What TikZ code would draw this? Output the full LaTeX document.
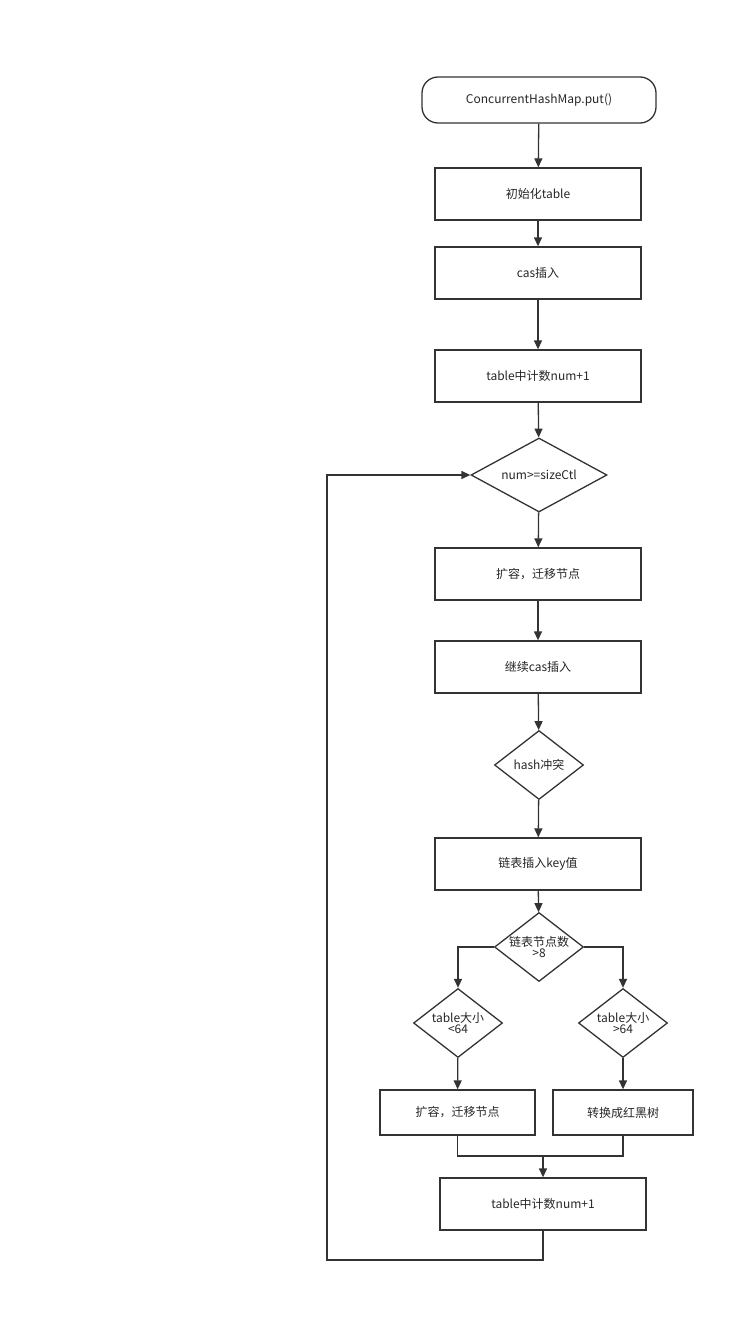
\documentclass[tikz,border=0pt]{standalone}
\usepackage{fontspec}
\setmainfont{Noto Sans CJK SC}
\usetikzlibrary{shapes.geometric,arrows.meta}
\begin{document}
\begin{tikzpicture}[x=1pt,y=-1pt,
  line width=1.3pt,
  every node/.style={font=\fontsize{12}{14}\selectfont,text=black!85},
  box/.style={draw=black!80,minimum width=206pt,minimum height=52pt,inner sep=0pt},
  dia/.style={draw=black!80,diamond,aspect=1.0,inner sep=0pt,align=center},
  arr/.style={draw=black!80,-{Triangle[length=9pt,width=8pt]}}]
\useasboundingbox (0,0) rectangle (754,1322);
\node[box,rounded corners=16pt,minimum width=234pt,minimum height=46pt] (start) at (539,100) {ConcurrentHashMap.put()};
\node[box] (init) at (538,194) {初始化table};
\node[box] (cas) at (538,273) {cas插入};
\node[box] (cnt) at (538,376) {table中计数num+1};
\node[dia,minimum width=136pt,minimum height=74pt,aspect=1.84] (d1) at (539,475) {num>=sizeCtl};
\node[box] (exp) at (538,574) {扩容，迁移节点};
\node[box] (cont) at (538,667) {继续cas插入};
\node[dia,minimum width=89pt,minimum height=69pt,aspect=1.29] (d2) at (539,765) {hash冲突};
\node[box] (link) at (538,864) {链表插入key值};
\node[dia,minimum width=89pt,minimum height=69pt,aspect=1.29] (d3) at (539,947) {链表节点数\\[-3pt]>8};
\node[dia,minimum width=89pt,minimum height=69pt,aspect=1.29] (dl) at (458,1023) {table大小\\[-3pt]<64};
\node[dia,minimum width=89pt,minimum height=69pt,aspect=1.29] (dr) at (623,1023) {table大小\\[-3pt]>64};
\node[box,minimum width=155pt,minimum height=45pt] (bl) at (457.5,1112.5) {扩容，迁移节点};
\node[box,minimum width=140pt,minimum height=45pt] (br) at (623,1112.5) {转换成红黑树};
\node[box] (cnt2) at (543,1204) {table中计数num+1};
\draw[arr] (start) -- (init);
\draw[arr] (init) -- (cas);
\draw[arr] (cas) -- (cnt);
\draw[arr] (cnt) -- (d1);
\draw[arr] (d1) -- (exp);
\draw[arr] (exp) -- (cont);
\draw[arr] (cont) -- (d2);
\draw[arr] (d2) -- (link);
\draw[arr] (link) -- (d3);
\draw[arr] (d3.west) -| (dl.north);
\draw[arr] (d3.east) -| (dr.north);
\draw[arr] (dl) -- (bl);
\draw[arr] (dr) -- (br);
\coordinate (m) at (543,1156);
\draw[draw=black!80] (bl.south) |- (m) -| (br.south);
\draw[arr] (m) -- (cnt2);
\draw[arr] (cnt2.south) -- (543,1260) -- (327,1260) -- (327,475) -- (d1.west);
\end{tikzpicture}
\end{document}
